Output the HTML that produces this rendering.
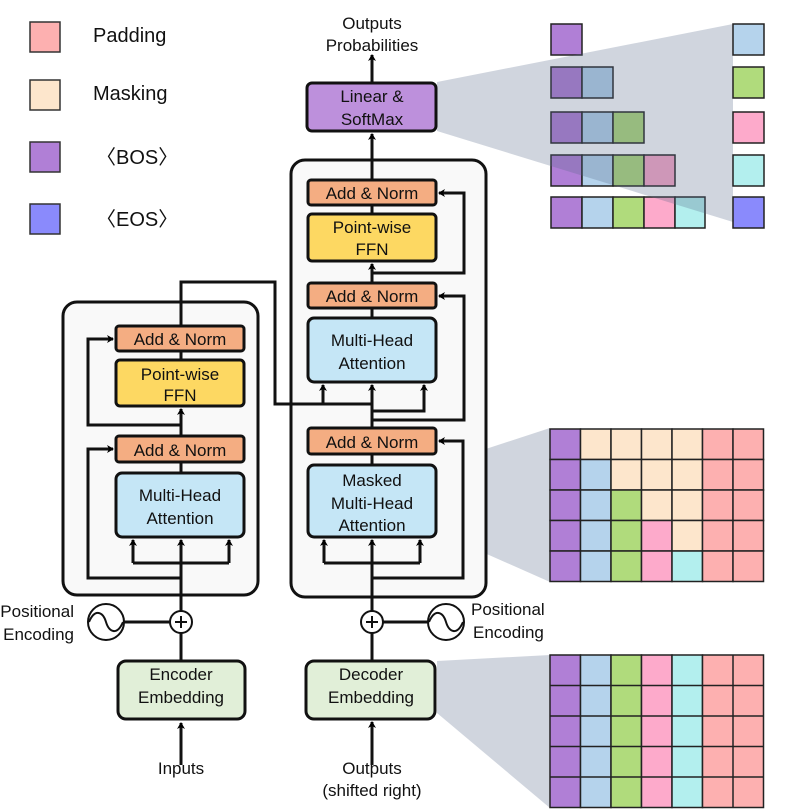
<!DOCTYPE html>
<html><head><meta charset="utf-8"><style>
html,body{margin:0;padding:0;background:#fff}
svg{display:block}
text{font-family:"Liberation Sans",sans-serif;fill:#111}
</style></head><body>
<svg width="810" height="810" viewBox="0 0 810 810" xmlns="http://www.w3.org/2000/svg">
<defs>
<marker id="a" markerWidth="8" markerHeight="8" refX="6" refY="4" orient="auto" markerUnits="userSpaceOnUse">
<path d="M0,0 L7,4 L0,8 L2,4 z" fill="#000"/>
</marker>
</defs>
<!-- legend -->
<g stroke="#333" stroke-width="1.5">
<rect x="30" y="22" width="30" height="30" fill="#fdb0b0"/>
<rect x="30" y="80" width="30" height="30" fill="#fde6cc"/>
<rect x="30" y="142" width="30" height="30" fill="#b07fd6"/>
<rect x="30" y="204" width="30" height="30" fill="#8a8afc"/>
</g>
<g font-size="20">
<text x="93" y="42">Padding</text>
<text x="93" y="100">Masking</text>
<text x="96" y="164">〈BOS〉</text>
<text x="96" y="226">〈EOS〉</text>
</g>

<!-- top right squares -->
<g stroke="#222" stroke-width="1.5">
<rect x="551" y="24" width="31" height="31" fill="#b07fd6"/>
<rect x="551" y="67" width="31" height="31" fill="#b07fd6"/><rect x="582" y="67" width="31" height="31" fill="#b5d3ec"/>
<rect x="551" y="112" width="31" height="31" fill="#b07fd6"/><rect x="582" y="112" width="31" height="31" fill="#b5d3ec"/><rect x="613" y="112" width="31" height="31" fill="#b0db7c"/>
<rect x="551" y="155" width="31" height="31" fill="#b07fd6"/><rect x="582" y="155" width="31" height="31" fill="#b5d3ec"/><rect x="613" y="155" width="31" height="31" fill="#b0db7c"/><rect x="644" y="155" width="31" height="31" fill="#fdaacb"/>
<rect x="551" y="197" width="31" height="31" fill="#b07fd6"/><rect x="582" y="197" width="31" height="31" fill="#b5d3ec"/><rect x="613" y="197" width="31" height="31" fill="#b0db7c"/><rect x="644" y="197" width="31" height="31" fill="#fdaacb"/><rect x="675" y="197" width="30" height="31" fill="#b3efee"/>
</g>
<polygon points="437,82 733,24 733,222 437,131" fill="#57698a" opacity="0.28"/>
<g stroke="#222" stroke-width="1.5">
<rect x="733" y="24" width="31" height="31" fill="#b5d3ec"/>
<rect x="733" y="67" width="31" height="31" fill="#b0db7c"/>
<rect x="733" y="112" width="31" height="31" fill="#fdaacb"/>
<rect x="733" y="155" width="31" height="31" fill="#b3efee"/>
<rect x="733" y="197" width="31" height="31" fill="#8a8afc"/>
</g>

<!-- shades to grids -->
<polygon points="437,465 550,428 550,582 437,532" fill="#57698a" opacity="0.28"/>
<polygon points="437,661 550,655 550,808 437,713" fill="#57698a" opacity="0.28"/>

<!-- grids -->
<g stroke="#222" stroke-width="1.5">
<g>
<rect x="550" y="429" width="30.5" height="30.5" fill="#b07fd6"/><rect x="580.5" y="429" width="30.5" height="30.5" fill="#fde6cc"/><rect x="611" y="429" width="30.5" height="30.5" fill="#fde6cc"/><rect x="641.5" y="429" width="30.5" height="30.5" fill="#fde6cc"/><rect x="672" y="429" width="30.5" height="30.5" fill="#fde6cc"/><rect x="702.5" y="429" width="30.5" height="30.5" fill="#fdb0b0"/><rect x="733" y="429" width="30.5" height="30.5" fill="#fdb0b0"/>
<rect x="550" y="459.5" width="30.5" height="30.5" fill="#b07fd6"/><rect x="580.5" y="459.5" width="30.5" height="30.5" fill="#b5d3ec"/><rect x="611" y="459.5" width="30.5" height="30.5" fill="#fde6cc"/><rect x="641.5" y="459.5" width="30.5" height="30.5" fill="#fde6cc"/><rect x="672" y="459.5" width="30.5" height="30.5" fill="#fde6cc"/><rect x="702.5" y="459.5" width="30.5" height="30.5" fill="#fdb0b0"/><rect x="733" y="459.5" width="30.5" height="30.5" fill="#fdb0b0"/>
<rect x="550" y="490" width="30.5" height="30.5" fill="#b07fd6"/><rect x="580.5" y="490" width="30.5" height="30.5" fill="#b5d3ec"/><rect x="611" y="490" width="30.5" height="30.5" fill="#b0db7c"/><rect x="641.5" y="490" width="30.5" height="30.5" fill="#fde6cc"/><rect x="672" y="490" width="30.5" height="30.5" fill="#fde6cc"/><rect x="702.5" y="490" width="30.5" height="30.5" fill="#fdb0b0"/><rect x="733" y="490" width="30.5" height="30.5" fill="#fdb0b0"/>
<rect x="550" y="520.5" width="30.5" height="30.5" fill="#b07fd6"/><rect x="580.5" y="520.5" width="30.5" height="30.5" fill="#b5d3ec"/><rect x="611" y="520.5" width="30.5" height="30.5" fill="#b0db7c"/><rect x="641.5" y="520.5" width="30.5" height="30.5" fill="#fdaacb"/><rect x="672" y="520.5" width="30.5" height="30.5" fill="#fde6cc"/><rect x="702.5" y="520.5" width="30.5" height="30.5" fill="#fdb0b0"/><rect x="733" y="520.5" width="30.5" height="30.5" fill="#fdb0b0"/>
<rect x="550" y="551" width="30.5" height="30.5" fill="#b07fd6"/><rect x="580.5" y="551" width="30.5" height="30.5" fill="#b5d3ec"/><rect x="611" y="551" width="30.5" height="30.5" fill="#b0db7c"/><rect x="641.5" y="551" width="30.5" height="30.5" fill="#fdaacb"/><rect x="672" y="551" width="30.5" height="30.5" fill="#b3efee"/><rect x="702.5" y="551" width="30.5" height="30.5" fill="#fdb0b0"/><rect x="733" y="551" width="30.5" height="30.5" fill="#fdb0b0"/>
</g>
<g transform="translate(0,226)">
<rect x="550" y="429" width="30.5" height="152.5" fill="#b07fd6"/><rect x="580.5" y="429" width="30.5" height="152.5" fill="#b5d3ec"/><rect x="611" y="429" width="30.5" height="152.5" fill="#b0db7c"/><rect x="641.5" y="429" width="30.5" height="152.5" fill="#fdaacb"/><rect x="672" y="429" width="30.5" height="152.5" fill="#b3efee"/><rect x="702.5" y="429" width="61" height="152.5" fill="#fdb0b0"/>
<path d="M733,429V581.5 M550,459.5H763.5 M550,490H763.5 M550,520.5H763.5 M550,551H763.5" fill="none"/>
</g>
</g>

<!-- containers -->
<rect x="63" y="302" width="195" height="293" rx="14" fill="#f9f9f9" stroke="#111" stroke-width="3"/>
<rect x="291" y="160" width="195" height="437" rx="14" fill="#f9f9f9" stroke="#111" stroke-width="3"/>

<!-- connectors -->
<g stroke="#111" stroke-width="3" fill="none">
<path d="M181,765V723" marker-end="url(#a)"/>
<path d="M181,661V633 M181,611V540"/>
<path d="M133,563H229"/>
<path d="M133,563V540" marker-end="url(#a)"/>
<path d="M229,563V540" marker-end="url(#a)"/>
<path d="M181,563V540" marker-end="url(#a)"/>
<path d="M181,578H88V449H113" marker-end="url(#a)"/>
<path d="M181,473V462"/>
<path d="M181,436V409" marker-end="url(#a)"/>
<path d="M181,425H88V339H113" marker-end="url(#a)"/>
<path d="M181,360V351"/>
<path d="M181,326V282H275V404H372"/>
<path d="M323,404V385" marker-end="url(#a)"/>
<path d="M124,622H170"/>
<path d="M372,765V722" marker-end="url(#a)"/>
<path d="M372,661V633 M372,611V540"/>
<path d="M383,622H428"/>
<path d="M372,563V540" marker-end="url(#a)"/>
<path d="M324,563H420"/>
<path d="M324,563V540" marker-end="url(#a)"/>
<path d="M420,563V540" marker-end="url(#a)"/>
<path d="M372,578H463V441H439" marker-end="url(#a)"/>
<path d="M372,465V454"/>
<path d="M372,428V385" marker-end="url(#a)"/>
<path d="M372,411H424V385" marker-end="url(#a)"/>
<path d="M372,420H464V296H439" marker-end="url(#a)"/>
<path d="M372,318V308"/>
<path d="M372,283V264" marker-end="url(#a)"/>
<path d="M372,273H464V193H439" marker-end="url(#a)"/>
<path d="M372,214V205"/>
<path d="M372,180V134" marker-end="url(#a)"/>
<path d="M372,83V55" marker-end="url(#a)"/>
</g>

<!-- boxes -->
<g stroke="#111" stroke-width="3">
<rect x="116" y="326" width="128" height="25" rx="3" fill="#f4ad82"/>
<rect x="116" y="360" width="128" height="46" rx="4" fill="#fdd862"/>
<rect x="116" y="436" width="128" height="26" rx="3" fill="#f4ad82"/>
<rect x="116" y="473" width="128" height="64" rx="6" fill="#c5e6f6"/>
<rect x="118" y="661" width="127" height="58" rx="8" fill="#e1efd8"/>
<rect x="308" y="180" width="128" height="25" rx="3" fill="#f4ad82"/>
<rect x="308" y="214" width="128" height="47" rx="4" fill="#fdd862"/>
<rect x="308" y="283" width="128" height="25" rx="3" fill="#f4ad82"/>
<rect x="308" y="318" width="128" height="64" rx="6" fill="#c5e6f6"/>
<rect x="308" y="428" width="128" height="26" rx="3" fill="#f4ad82"/>
<rect x="308" y="465" width="128" height="72" rx="6" fill="#c5e6f6"/>
<rect x="307" y="83" width="129" height="48" rx="5" fill="#bd90dc"/>
<rect x="306" y="661" width="129" height="58" rx="8" fill="#e1efd8"/>
</g>

<!-- circles -->
<g stroke="#111" stroke-width="2" fill="#fff">
<circle cx="181" cy="622" r="11"/>
<circle cx="372" cy="622" r="11"/>
<circle cx="106" cy="622" r="18"/>
<circle cx="446" cy="622" r="18"/>
</g>
<g stroke="#111" stroke-width="2" fill="none">
<path d="M175,622H187 M181,616V628 M366,622H378 M372,616V628"/>
<path d="M89,622 C95,608 103,612 106,622 C109,632 117,636 123,622"/>
<path d="M429,622 C435,608 443,612 446,622 C449,632 457,636 463,622"/>
</g>

<!-- labels -->
<g font-size="17" text-anchor="middle">
<text x="180" y="345">Add &amp; Norm</text>
<text x="180" y="380">Point-wise</text><text x="180" y="401">FFN</text>
<text x="180" y="456">Add &amp; Norm</text>
<text x="180" y="501">Multi-Head</text><text x="180" y="524">Attention</text>
<text x="181" y="680">Encoder</text><text x="181" y="703">Embedding</text>
<text x="372" y="199">Add &amp; Norm</text>
<text x="372" y="233">Point-wise</text><text x="372" y="255">FFN</text>
<text x="372" y="302">Add &amp; Norm</text>
<text x="372" y="346">Multi-Head</text><text x="372" y="369">Attention</text>
<text x="372" y="448">Add &amp; Norm</text>
<text x="372" y="486">Masked</text><text x="372" y="509">Multi-Head</text><text x="372" y="531">Attention</text>
<text x="372" y="102">Linear &amp;</text><text x="372" y="125">SoftMax</text>
<text x="371" y="680">Decoder</text><text x="371" y="703">Embedding</text>
<text x="372" y="29">Outputs</text><text x="372" y="51">Probabilities</text>
<text x="181" y="774">Inputs</text>
<text x="372" y="774">Outputs</text><text x="372" y="796">(shifted right)</text>
</g>
<g font-size="17">
<text x="74" y="617" text-anchor="end">Positional</text><text x="74" y="640" text-anchor="end">Encoding</text>
<text x="471" y="615">Positional</text><text x="473" y="638">Encoding</text>
</g>
</svg>
</body></html>
